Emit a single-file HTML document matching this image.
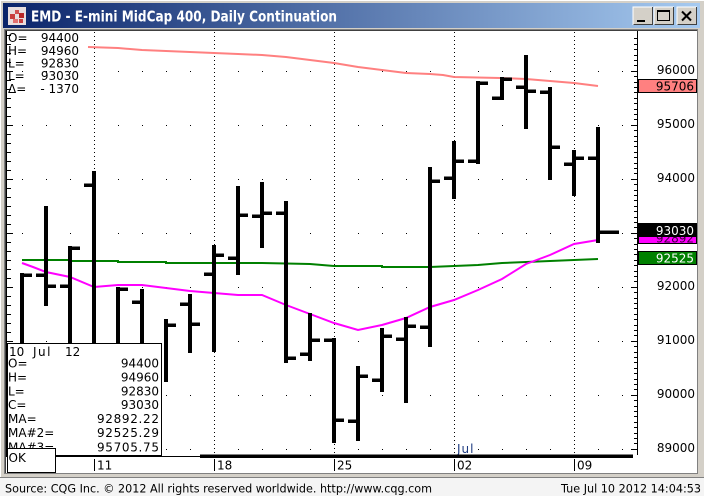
<!DOCTYPE html>
<html>
<head>
<meta charset="utf-8">
<style>
html,body{margin:0;padding:0;background:#d4d0c8;}
svg{display:block;}
text{font-family:"DejaVu Sans","Liberation Sans",sans-serif;}
</style>
</head>
<body>
<svg width="704" height="496" viewBox="0 0 704 496" xmlns="http://www.w3.org/2000/svg">
<defs>
<linearGradient id="tb" x1="0" y1="0" x2="1" y2="0">
<stop offset="0" stop-color="#0a246a"/>
<stop offset="1" stop-color="#a6caf0"/>
</linearGradient>
</defs>
<!-- window background -->
<rect x="0" y="0" width="704" height="496" fill="#d4d0c8"/>
<rect x="0" y="0" width="704" height="1" fill="#ffffff"/>
<rect x="0" y="0" width="1" height="478" fill="#ffffff"/>
<!-- title bar -->
<rect x="3" y="3" width="697" height="25" fill="url(#tb)"/>
<!-- icon -->
<rect x="8" y="7" width="18" height="18" fill="#e8dede"/>
<rect x="10" y="14" width="5" height="5" fill="#c83c3c"/>
<rect x="15" y="10" width="4" height="4" fill="#d05050"/>
<rect x="19" y="13" width="5" height="5" fill="#b82828"/>
<rect x="13" y="19" width="5" height="4" fill="#e07070"/>
<rect x="19" y="19" width="4" height="4" fill="#c84040"/>
<text x="31" y="21.5" font-family="Liberation Sans, sans-serif" font-weight="bold" font-size="15" fill="#ffffff" textLength="306" lengthAdjust="spacingAndGlyphs">EMD - E-mini MidCap 400, Daily Continuation</text>
<!-- title buttons -->
<g>
<rect x="633" y="7" width="20" height="18" fill="#d4d0c8"/>
<path d="M633 25V7H653" stroke="#ffffff" fill="none"/>
<path d="M633.5 24.5H652.5V7" stroke="#404040" fill="none"/>
<rect x="637" y="20" width="8" height="2" fill="#000"/>
<rect x="654" y="7" width="20" height="18" fill="#d4d0c8"/>
<path d="M654 25V7H674" stroke="#ffffff" fill="none"/>
<path d="M654.5 24.5H673.5V7" stroke="#404040" fill="none"/>
<rect x="657.5" y="10.5" width="12" height="10" fill="none" stroke="#000"/>
<rect x="657" y="10" width="13" height="2" fill="#000"/>
<rect x="677" y="7" width="20" height="18" fill="#d4d0c8"/>
<path d="M677 25V7H697" stroke="#ffffff" fill="none"/>
<path d="M677.5 24.5H696.5V7" stroke="#404040" fill="none"/>
<path d="M682 11.5L691 20.5M691 11.5L682 20.5" stroke="#000" stroke-width="2"/>
</g>
<!-- inner frame -->
<rect x="4" y="29" width="694" height="445" fill="#808080"/>
<rect x="5" y="30" width="692" height="443" fill="#404040"/>
<rect x="6" y="31" width="691" height="442" fill="#ffffff"/>
<rect x="0" y="477" width="704" height="1" fill="#808080"/>
<!-- footer -->
<rect x="0" y="478" width="704" height="18" fill="#f4f4f4"/>
<text x="5" y="492.5" font-size="11.5" fill="#000" textLength="427" lengthAdjust="spacingAndGlyphs">Source: CQG Inc. © 2012 All rights reserved worldwide.  http://www.cqg.com</text>
<text x="561" y="492.5" font-size="11.5" fill="#000" textLength="140" lengthAdjust="spacingAndGlyphs">Tue Jul 10 2012 14:04:53</text>

<!-- grid dots -->
<g fill="#000">
<rect x="22" y="71" width="1" height="1"/><rect x="46" y="71" width="1" height="1"/><rect x="70" y="71" width="1" height="1"/><rect x="118" y="71" width="1" height="1"/><rect x="142" y="71" width="1" height="1"/><rect x="166" y="71" width="1" height="1"/><rect x="190" y="71" width="1" height="1"/><rect x="238" y="71" width="1" height="1"/><rect x="262" y="71" width="1" height="1"/><rect x="286" y="71" width="1" height="1"/><rect x="310" y="71" width="1" height="1"/><rect x="358" y="71" width="1" height="1"/><rect x="382" y="71" width="1" height="1"/><rect x="406" y="71" width="1" height="1"/><rect x="430" y="71" width="1" height="1"/><rect x="478" y="71" width="1" height="1"/><rect x="502" y="71" width="1" height="1"/><rect x="526" y="71" width="1" height="1"/><rect x="550" y="71" width="1" height="1"/><rect x="598" y="71" width="1" height="1"/><rect x="622" y="71" width="1" height="1"/>
</g>
<g id="gridrows" fill="#000">
</g>
<!-- rows generated manually -->
<g fill="#000">
<!-- y=125 -->
<rect x="22" y="125" width="1" height="1"/><rect x="46" y="125" width="1" height="1"/><rect x="70" y="125" width="1" height="1"/><rect x="118" y="125" width="1" height="1"/><rect x="142" y="125" width="1" height="1"/><rect x="166" y="125" width="1" height="1"/><rect x="190" y="125" width="1" height="1"/><rect x="238" y="125" width="1" height="1"/><rect x="262" y="125" width="1" height="1"/><rect x="286" y="125" width="1" height="1"/><rect x="310" y="125" width="1" height="1"/><rect x="358" y="125" width="1" height="1"/><rect x="382" y="125" width="1" height="1"/><rect x="406" y="125" width="1" height="1"/><rect x="430" y="125" width="1" height="1"/><rect x="478" y="125" width="1" height="1"/><rect x="502" y="125" width="1" height="1"/><rect x="526" y="125" width="1" height="1"/><rect x="550" y="125" width="1" height="1"/><rect x="598" y="125" width="1" height="1"/><rect x="622" y="125" width="1" height="1"/>
<!-- y=179 -->
<rect x="22" y="179" width="1" height="1"/><rect x="46" y="179" width="1" height="1"/><rect x="70" y="179" width="1" height="1"/><rect x="118" y="179" width="1" height="1"/><rect x="142" y="179" width="1" height="1"/><rect x="166" y="179" width="1" height="1"/><rect x="190" y="179" width="1" height="1"/><rect x="238" y="179" width="1" height="1"/><rect x="262" y="179" width="1" height="1"/><rect x="286" y="179" width="1" height="1"/><rect x="310" y="179" width="1" height="1"/><rect x="358" y="179" width="1" height="1"/><rect x="382" y="179" width="1" height="1"/><rect x="406" y="179" width="1" height="1"/><rect x="430" y="179" width="1" height="1"/><rect x="478" y="179" width="1" height="1"/><rect x="502" y="179" width="1" height="1"/><rect x="526" y="179" width="1" height="1"/><rect x="550" y="179" width="1" height="1"/><rect x="598" y="179" width="1" height="1"/><rect x="622" y="179" width="1" height="1"/>
<!-- y=233 -->
<rect x="22" y="233" width="1" height="1"/><rect x="46" y="233" width="1" height="1"/><rect x="70" y="233" width="1" height="1"/><rect x="118" y="233" width="1" height="1"/><rect x="142" y="233" width="1" height="1"/><rect x="166" y="233" width="1" height="1"/><rect x="190" y="233" width="1" height="1"/><rect x="238" y="233" width="1" height="1"/><rect x="262" y="233" width="1" height="1"/><rect x="286" y="233" width="1" height="1"/><rect x="310" y="233" width="1" height="1"/><rect x="358" y="233" width="1" height="1"/><rect x="382" y="233" width="1" height="1"/><rect x="406" y="233" width="1" height="1"/><rect x="430" y="233" width="1" height="1"/><rect x="478" y="233" width="1" height="1"/><rect x="502" y="233" width="1" height="1"/><rect x="526" y="233" width="1" height="1"/><rect x="550" y="233" width="1" height="1"/><rect x="598" y="233" width="1" height="1"/><rect x="622" y="233" width="1" height="1"/>
<!-- y=287 -->
<rect x="22" y="287" width="1" height="1"/><rect x="46" y="287" width="1" height="1"/><rect x="70" y="287" width="1" height="1"/><rect x="118" y="287" width="1" height="1"/><rect x="142" y="287" width="1" height="1"/><rect x="166" y="287" width="1" height="1"/><rect x="190" y="287" width="1" height="1"/><rect x="238" y="287" width="1" height="1"/><rect x="262" y="287" width="1" height="1"/><rect x="286" y="287" width="1" height="1"/><rect x="310" y="287" width="1" height="1"/><rect x="358" y="287" width="1" height="1"/><rect x="382" y="287" width="1" height="1"/><rect x="406" y="287" width="1" height="1"/><rect x="430" y="287" width="1" height="1"/><rect x="478" y="287" width="1" height="1"/><rect x="502" y="287" width="1" height="1"/><rect x="526" y="287" width="1" height="1"/><rect x="550" y="287" width="1" height="1"/><rect x="598" y="287" width="1" height="1"/><rect x="622" y="287" width="1" height="1"/>
<!-- y=341 -->
<rect x="22" y="341" width="1" height="1"/><rect x="46" y="341" width="1" height="1"/><rect x="70" y="341" width="1" height="1"/><rect x="118" y="341" width="1" height="1"/><rect x="142" y="341" width="1" height="1"/><rect x="166" y="341" width="1" height="1"/><rect x="190" y="341" width="1" height="1"/><rect x="238" y="341" width="1" height="1"/><rect x="262" y="341" width="1" height="1"/><rect x="286" y="341" width="1" height="1"/><rect x="310" y="341" width="1" height="1"/><rect x="358" y="341" width="1" height="1"/><rect x="382" y="341" width="1" height="1"/><rect x="406" y="341" width="1" height="1"/><rect x="430" y="341" width="1" height="1"/><rect x="478" y="341" width="1" height="1"/><rect x="502" y="341" width="1" height="1"/><rect x="526" y="341" width="1" height="1"/><rect x="550" y="341" width="1" height="1"/><rect x="598" y="341" width="1" height="1"/><rect x="622" y="341" width="1" height="1"/>
<!-- y=395 -->
<rect x="166" y="395" width="1" height="1"/><rect x="190" y="395" width="1" height="1"/><rect x="238" y="395" width="1" height="1"/><rect x="262" y="395" width="1" height="1"/><rect x="286" y="395" width="1" height="1"/><rect x="310" y="395" width="1" height="1"/><rect x="358" y="395" width="1" height="1"/><rect x="382" y="395" width="1" height="1"/><rect x="406" y="395" width="1" height="1"/><rect x="430" y="395" width="1" height="1"/><rect x="478" y="395" width="1" height="1"/><rect x="502" y="395" width="1" height="1"/><rect x="526" y="395" width="1" height="1"/><rect x="550" y="395" width="1" height="1"/><rect x="598" y="395" width="1" height="1"/><rect x="622" y="395" width="1" height="1"/>
<!-- y=449 -->
<rect x="166" y="449" width="1" height="1"/><rect x="190" y="449" width="1" height="1"/><rect x="238" y="449" width="1" height="1"/><rect x="262" y="449" width="1" height="1"/><rect x="286" y="449" width="1" height="1"/><rect x="310" y="449" width="1" height="1"/><rect x="358" y="449" width="1" height="1"/><rect x="382" y="449" width="1" height="1"/><rect x="406" y="449" width="1" height="1"/><rect x="430" y="449" width="1" height="1"/><rect x="478" y="449" width="1" height="1"/><rect x="502" y="449" width="1" height="1"/><rect x="526" y="449" width="1" height="1"/><rect x="550" y="449" width="1" height="1"/><rect x="598" y="449" width="1" height="1"/><rect x="622" y="449" width="1" height="1"/>
</g>
<!-- vertical dotted week lines -->
<g stroke="#000" stroke-width="1" stroke-dasharray="1 3">
<line x1="94.5" y1="32" x2="94.5" y2="455"/>
<line x1="214.5" y1="32" x2="214.5" y2="455"/>
<line x1="334.5" y1="32" x2="334.5" y2="455"/>
<line x1="454.5" y1="32" x2="454.5" y2="455"/>
<line x1="574.5" y1="32" x2="574.5" y2="455"/>
</g>

<!-- left axis -->
<rect x="6" y="31" width="1" height="426" fill="#000"/>
<g stroke="#000" stroke-width="1">
<line x1="7" y1="35.5" x2="11" y2="35.5"/><line x1="7" y1="44.5" x2="11" y2="44.5"/><line x1="7" y1="53.5" x2="11" y2="53.5"/><line x1="7" y1="62.5" x2="11" y2="62.5"/><line x1="7" y1="71.5" x2="13" y2="71.5"/>
<line x1="7" y1="80.5" x2="11" y2="80.5"/><line x1="7" y1="89.5" x2="11" y2="89.5"/><line x1="7" y1="98.5" x2="11" y2="98.5"/><line x1="7" y1="107.5" x2="11" y2="107.5"/><line x1="7" y1="116.5" x2="11" y2="116.5"/><line x1="7" y1="125.5" x2="13" y2="125.5"/>
<line x1="7" y1="134.5" x2="11" y2="134.5"/><line x1="7" y1="143.5" x2="11" y2="143.5"/><line x1="7" y1="152.5" x2="11" y2="152.5"/><line x1="7" y1="161.5" x2="11" y2="161.5"/><line x1="7" y1="170.5" x2="11" y2="170.5"/><line x1="7" y1="179.5" x2="13" y2="179.5"/>
<line x1="7" y1="188.5" x2="11" y2="188.5"/><line x1="7" y1="197.5" x2="11" y2="197.5"/><line x1="7" y1="206.5" x2="11" y2="206.5"/><line x1="7" y1="215.5" x2="11" y2="215.5"/><line x1="7" y1="224.5" x2="11" y2="224.5"/><line x1="7" y1="233.5" x2="13" y2="233.5"/>
<line x1="7" y1="242.5" x2="11" y2="242.5"/><line x1="7" y1="251.5" x2="11" y2="251.5"/><line x1="7" y1="260.5" x2="11" y2="260.5"/><line x1="7" y1="269.5" x2="11" y2="269.5"/><line x1="7" y1="278.5" x2="11" y2="278.5"/><line x1="7" y1="287.5" x2="13" y2="287.5"/>
<line x1="7" y1="296.5" x2="11" y2="296.5"/><line x1="7" y1="305.5" x2="11" y2="305.5"/><line x1="7" y1="314.5" x2="11" y2="314.5"/><line x1="7" y1="323.5" x2="11" y2="323.5"/><line x1="7" y1="332.5" x2="11" y2="332.5"/><line x1="7" y1="341.5" x2="13" y2="341.5"/>
</g>

<!-- right axis -->
<rect x="637" y="31" width="1" height="424" fill="#000"/>
<g stroke="#000" stroke-width="1">
<line x1="634" y1="38.5" x2="637" y2="38.5"/><line x1="634" y1="44.5" x2="637" y2="44.5"/><line x1="634" y1="49.5" x2="637" y2="49.5"/><line x1="634" y1="55.5" x2="637" y2="55.5"/><line x1="634" y1="60.5" x2="637" y2="60.5"/><line x1="634" y1="65.5" x2="637" y2="65.5"/><line x1="631" y1="71.5" x2="637" y2="71.5"/>
<line x1="634" y1="76.5" x2="637" y2="76.5"/><line x1="634" y1="82.5" x2="637" y2="82.5"/><line x1="634" y1="87.5" x2="637" y2="87.5"/><line x1="634" y1="92.5" x2="637" y2="92.5"/><line x1="634" y1="98.5" x2="637" y2="98.5"/><line x1="634" y1="103.5" x2="637" y2="103.5"/><line x1="634" y1="109.5" x2="637" y2="109.5"/><line x1="634" y1="114.5" x2="637" y2="114.5"/><line x1="634" y1="119.5" x2="637" y2="119.5"/><line x1="631" y1="125.5" x2="637" y2="125.5"/>
<line x1="634" y1="130.5" x2="637" y2="130.5"/><line x1="634" y1="136.5" x2="637" y2="136.5"/><line x1="634" y1="141.5" x2="637" y2="141.5"/><line x1="634" y1="146.5" x2="637" y2="146.5"/><line x1="634" y1="152.5" x2="637" y2="152.5"/><line x1="634" y1="157.5" x2="637" y2="157.5"/><line x1="634" y1="163.5" x2="637" y2="163.5"/><line x1="634" y1="168.5" x2="637" y2="168.5"/><line x1="634" y1="173.5" x2="637" y2="173.5"/><line x1="631" y1="179.5" x2="637" y2="179.5"/>
<line x1="634" y1="184.5" x2="637" y2="184.5"/><line x1="634" y1="190.5" x2="637" y2="190.5"/><line x1="634" y1="195.5" x2="637" y2="195.5"/><line x1="634" y1="200.5" x2="637" y2="200.5"/><line x1="634" y1="206.5" x2="637" y2="206.5"/><line x1="634" y1="211.5" x2="637" y2="211.5"/><line x1="634" y1="217.5" x2="637" y2="217.5"/><line x1="634" y1="222.5" x2="637" y2="222.5"/><line x1="634" y1="227.5" x2="637" y2="227.5"/><line x1="631" y1="233.5" x2="637" y2="233.5"/>
<line x1="634" y1="238.5" x2="637" y2="238.5"/><line x1="634" y1="244.5" x2="637" y2="244.5"/><line x1="634" y1="249.5" x2="637" y2="249.5"/><line x1="634" y1="254.5" x2="637" y2="254.5"/><line x1="634" y1="260.5" x2="637" y2="260.5"/><line x1="634" y1="265.5" x2="637" y2="265.5"/><line x1="634" y1="271.5" x2="637" y2="271.5"/><line x1="634" y1="276.5" x2="637" y2="276.5"/><line x1="634" y1="281.5" x2="637" y2="281.5"/><line x1="631" y1="287.5" x2="637" y2="287.5"/>
<line x1="634" y1="292.5" x2="637" y2="292.5"/><line x1="634" y1="298.5" x2="637" y2="298.5"/><line x1="634" y1="303.5" x2="637" y2="303.5"/><line x1="634" y1="308.5" x2="637" y2="308.5"/><line x1="634" y1="314.5" x2="637" y2="314.5"/><line x1="634" y1="319.5" x2="637" y2="319.5"/><line x1="634" y1="325.5" x2="637" y2="325.5"/><line x1="634" y1="330.5" x2="637" y2="330.5"/><line x1="634" y1="335.5" x2="637" y2="335.5"/><line x1="631" y1="341.5" x2="637" y2="341.5"/>
<line x1="634" y1="346.5" x2="637" y2="346.5"/><line x1="634" y1="352.5" x2="637" y2="352.5"/><line x1="634" y1="357.5" x2="637" y2="357.5"/><line x1="634" y1="362.5" x2="637" y2="362.5"/><line x1="634" y1="368.5" x2="637" y2="368.5"/><line x1="634" y1="373.5" x2="637" y2="373.5"/><line x1="634" y1="379.5" x2="637" y2="379.5"/><line x1="634" y1="384.5" x2="637" y2="384.5"/><line x1="634" y1="389.5" x2="637" y2="389.5"/><line x1="631" y1="395.5" x2="637" y2="395.5"/>
<line x1="634" y1="400.5" x2="637" y2="400.5"/><line x1="634" y1="406.5" x2="637" y2="406.5"/><line x1="634" y1="411.5" x2="637" y2="411.5"/><line x1="634" y1="416.5" x2="637" y2="416.5"/><line x1="634" y1="422.5" x2="637" y2="422.5"/><line x1="634" y1="427.5" x2="637" y2="427.5"/><line x1="634" y1="433.5" x2="637" y2="433.5"/><line x1="634" y1="438.5" x2="637" y2="438.5"/><line x1="634" y1="443.5" x2="637" y2="443.5"/><line x1="631" y1="449.5" x2="637" y2="449.5"/>
</g>
<!-- right axis labels -->
<g font-size="12" fill="#000" text-anchor="end">
<text x="695" y="74">96000</text>
<text x="695" y="128">95000</text>
<text x="695" y="182">94000</text>
<text x="695" y="236">93000</text>
<text x="695" y="290">92000</text>
<text x="695" y="344">91000</text>
<text x="695" y="398">90000</text>
<text x="695" y="452">89000</text>
</g>

<!-- moving averages -->
<polyline fill="none" stroke="#ff8080" stroke-width="2" points="88,47 118,48 142,50 166,51 190,52 214,53 238,54 262,55 286,57 310,60 334,63 358,67 382,70 406,73 430,74 443,75 454,77 500,78 526,79 550,81 574,83 598,86"/>
<polyline fill="none" stroke="#008000" stroke-width="2" points="22,260 70,260 70,261 118,261 118,262 166,262 166,263 262,263 310,264 334,266 382,266 382,267 430,267 454,266 478,265 502,263 526,262 550,261 574,260 598,259"/>
<polyline fill="none" stroke="#ff00ff" stroke-width="2" points="22,263 33,267 46,272 70,277 94,287 118,285 142,285 166,288 190,291 214,293 238,295 262,295 286,305 310,314 334,323 358,330 382,325 406,318 430,307 454,300 478,290 502,279 526,264 550,255 574,244 598,240"/>

<!-- OHLC bars -->
<g fill="#000">
<!-- k0 -->
<rect x="20" y="273" width="4" height="77"/><rect x="22" y="273.5" width="10" height="3.5"/>
<!-- k1 -->
<rect x="44" y="206" width="4" height="100"/><rect x="36" y="273.5" width="10" height="3.5"/><rect x="46" y="284.5" width="10" height="3.5"/>
<!-- k2 -->
<rect x="68" y="246" width="4" height="104"/><rect x="60" y="284.5" width="10" height="3.5"/><rect x="70" y="246.5" width="10" height="3.5"/>
<!-- k3 -->
<rect x="92" y="171" width="4" height="179"/><rect x="84" y="183.5" width="10" height="3.5"/>
<!-- k4 -->
<rect x="116" y="287" width="4" height="63"/><rect x="118" y="287.5" width="10" height="3.5"/>
<!-- k5 -->
<rect x="140" y="289" width="4" height="61"/><rect x="132" y="300.5" width="10" height="3.5"/>
<!-- k6 -->
<rect x="164" y="319" width="4" height="63"/><rect x="166" y="323.5" width="10" height="3.5"/>
<!-- k7 -->
<rect x="188" y="294" width="4" height="59"/><rect x="180" y="302.5" width="10" height="3.5"/><rect x="190" y="322.5" width="10" height="3.5"/>
<!-- k8 -->
<rect x="212" y="245" width="4" height="107"/><rect x="204" y="272.5" width="10" height="3.5"/><rect x="214" y="253.5" width="10" height="3.5"/>
<!-- k9 -->
<rect x="236" y="186" width="4" height="89"/><rect x="228" y="256.5" width="10" height="3.5"/><rect x="238" y="213.5" width="10" height="3.5"/>
<!-- k10 -->
<rect x="260" y="182" width="4" height="66"/><rect x="252" y="214.5" width="10" height="3.5"/><rect x="262" y="211.5" width="10" height="3.5"/>
<!-- k11 -->
<rect x="284" y="201" width="4" height="162"/><rect x="276" y="211.5" width="10" height="3.5"/><rect x="286" y="356.5" width="10" height="3.5"/>
<!-- k12 -->
<rect x="308" y="313" width="4" height="48"/><rect x="300" y="352.5" width="10" height="3.5"/><rect x="310" y="338.5" width="10" height="3.5"/>
<!-- k13 -->
<rect x="332" y="338" width="4" height="105"/><rect x="324" y="338.5" width="10" height="3.5"/><rect x="334" y="418.5" width="10" height="3.5"/>
<!-- k14 -->
<rect x="356" y="366" width="4" height="75"/><rect x="348" y="419.5" width="10" height="3.5"/><rect x="358" y="374.5" width="10" height="3.5"/>
<!-- k15 -->
<rect x="380" y="328" width="4" height="64"/><rect x="372" y="378.5" width="10" height="3.5"/><rect x="382" y="334.5" width="10" height="3.5"/>
<!-- k16 -->
<rect x="404" y="317" width="4" height="86"/><rect x="396" y="337.5" width="10" height="3.5"/><rect x="406" y="324.5" width="10" height="3.5"/>
<!-- k17 -->
<rect x="428" y="167" width="4" height="180"/><rect x="420" y="325.5" width="10" height="3.5"/><rect x="430" y="179.5" width="10" height="3.5"/>
<!-- k18 -->
<rect x="452" y="141" width="4" height="58"/><rect x="444" y="176.5" width="10" height="3.5"/><rect x="454" y="159.5" width="10" height="3.5"/>
<!-- k19 -->
<rect x="476" y="81" width="4" height="83"/><rect x="468" y="159.5" width="10" height="3.5"/><rect x="478" y="81.5" width="10" height="3.5"/>
<!-- k20 -->
<rect x="500" y="77" width="4" height="23"/><rect x="492" y="96.5" width="10" height="3.5"/><rect x="502" y="77.5" width="10" height="3.5"/>
<!-- k21 -->
<rect x="524" y="55" width="4" height="74"/><rect x="516" y="85.5" width="10" height="3.5"/><rect x="526" y="89.5" width="10" height="3.5"/>
<!-- k22 -->
<rect x="548" y="87" width="4" height="93"/><rect x="540" y="90.5" width="10" height="3.5"/><rect x="550" y="145.5" width="10" height="3.5"/>
<!-- k23 -->
<rect x="572" y="150" width="4" height="46"/><rect x="564" y="162.5" width="10" height="3.5"/><rect x="574" y="156.5" width="10" height="3.5"/>
<!-- k24 -->
<rect x="596" y="127" width="4" height="116"/><rect x="588" y="156.5" width="10" height="3.5"/><rect x="598" y="230.5" width="21" height="3.5"/>
</g>

<!-- price boxes -->
<rect x="638.5" y="79.5" width="58" height="13" fill="#ff8080" stroke="#000"/>
<text x="694" y="90.5" font-size="12" fill="#000" text-anchor="end">95706</text>
<rect x="638.5" y="230.5" width="58" height="13" fill="#ff00ff" stroke="#000"/>
<text x="694" y="242.5" font-size="12" fill="#400040" text-anchor="end">92892</text>
<rect x="638.5" y="223.5" width="58" height="13" fill="#000" stroke="#000"/>
<text x="694" y="235" font-size="12" fill="#ffffff" text-anchor="end">93030</text>
<rect x="638.5" y="251.5" width="58" height="13" fill="#008000" stroke="#000"/>
<text x="694" y="262.5" font-size="12" fill="#ffffff" text-anchor="end">92525</text>

<!-- top-left data -->
<g font-size="12" fill="#000">
<text x="8" y="42">O=</text><text x="79" y="42" text-anchor="end">94400</text>
<text x="8" y="55">H=</text><text x="79" y="55" text-anchor="end">94960</text>
<text x="8" y="67.5">L=</text><text x="79" y="67.5" text-anchor="end">92830</text>
<text x="8" y="80">L=</text><text x="79" y="80" text-anchor="end">93030</text>
<text x="8" y="93">Δ=</text><text x="79" y="93" text-anchor="end">- 1370</text>
</g>

<!-- Jul label -->
<text x="457" y="453" font-size="12" fill="#1c3a80" letter-spacing="1">Jul</text>

<!-- x axis -->
<rect x="55" y="456" width="145" height="1" fill="#000"/>
<rect x="200" y="454.5" width="433" height="3.5" fill="#000"/>
<g fill="#000">
<rect x="94" y="459" width="1" height="12"/>
<rect x="214" y="459" width="1" height="12"/>
<rect x="334" y="459" width="1" height="12"/>
<rect x="454" y="459" width="1" height="12"/>
<rect x="574" y="459" width="1" height="12"/>
</g>
<g font-size="12" fill="#000">
<text x="97" y="469.5">11</text>
<text x="217" y="469.5">18</text>
<text x="337" y="469.5">25</text>
<text x="457" y="469.5">02</text>
<text x="577" y="469.5">09</text>
</g>

<!-- bottom-left data box -->
<rect x="7.5" y="343.5" width="154" height="112" fill="#ffffff" stroke="#000"/>
<g font-size="12" fill="#000">
<text x="9" y="356">10</text><text x="33" y="356" letter-spacing="1.5">Jul</text><text x="65" y="356">12</text>
<text x="8" y="367.5">O=</text><text x="159" y="367.5" text-anchor="end">94400</text>
<text x="8" y="381.5">H=</text><text x="159" y="381.5" text-anchor="end">94960</text>
<text x="8" y="395.5">L=</text><text x="159" y="395.5" text-anchor="end">92830</text>
<text x="8" y="409">C=</text><text x="159" y="409" text-anchor="end">93030</text>
<text x="8" y="423">MA=</text><text x="159" y="423" text-anchor="end" textLength="62" lengthAdjust="spacing">92892.22</text>
<text x="8" y="437">MA#2=</text><text x="159" y="437" text-anchor="end" textLength="62" lengthAdjust="spacing">92525.29</text>
<text x="8" y="451.5">MA#3=</text><text x="159" y="451.5" text-anchor="end" textLength="62" lengthAdjust="spacing">95705.75</text>
</g>
<!-- OK button -->
<rect x="7.5" y="448.5" width="48" height="24" fill="#ffffff" stroke="#000"/>
<text x="8.5" y="462" font-size="12" fill="#000">OK</text>
</svg>
</body>
</html>
